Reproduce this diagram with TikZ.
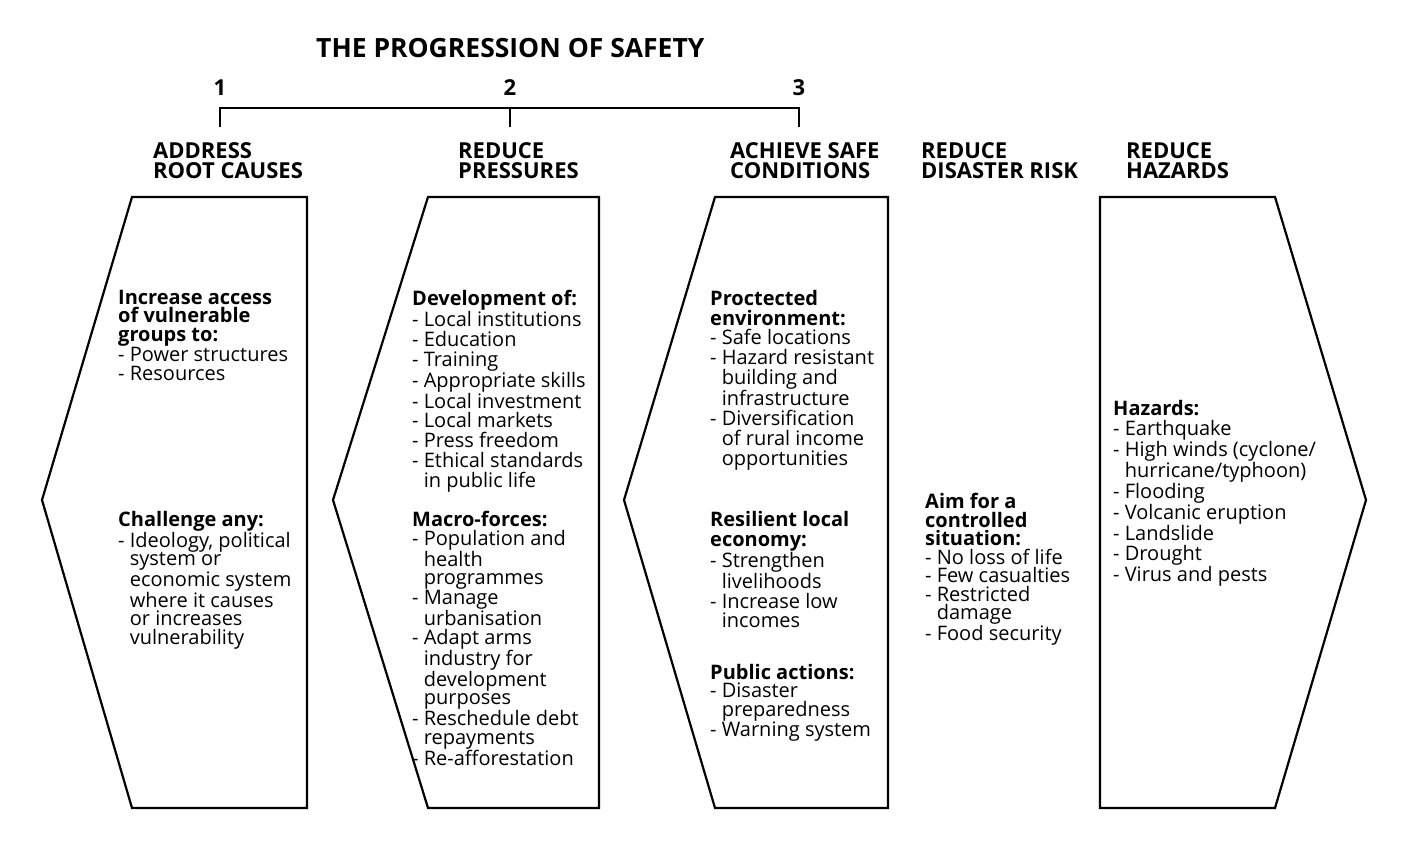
\documentclass[tikz,border=0pt]{standalone}
\usepackage{fontspec}
\setmainfont{Open Sans}
\begin{document}
\begin{tikzpicture}[x=1pt,y=-1pt,
  shp/.style={draw=black,line width=2.2pt,line join=miter},
  txt/.style={anchor=north west,inner sep=0pt,align=left,font=\fontsize{20}{19.8}\selectfont},
  tight/.style={anchor=north west,inner sep=0pt,align=left,font=\fontsize{20}{18.5}\selectfont},
  hdr/.style={anchor=north west,inner sep=0pt,align=left,font=\bfseries\fontsize{22}{20}\selectfont}]
\newcommand{\ind}{\phantom{- }}
\useasboundingbox (0,0) rectangle (1408,848);
\node[inner sep=0pt,anchor=west,font=\bfseries\fontsize{26.5}{26}\selectfont] (title) at (316,48) {THE PROGRESSION OF SAFETY};
\coordinate (b1) at (220,108); \coordinate (b2) at (510,108); \coordinate (b3) at (799,108);
\draw[line width=2pt] (220,127) -- (b1) -- (b3) -- (799,127);
\draw[line width=2pt] (b2) -- (510,127);
\node[font=\bfseries\fontsize{22}{22}\selectfont] (n1) at (220,88) {1};
\node[font=\bfseries\fontsize{22}{22}\selectfont] (n2) at (510,88) {2};
\node[font=\bfseries\fontsize{22}{22}\selectfont] (n3) at (799,88) {3};
\node[hdr] (h1) at (153,142) {ADDRESS\\ROOT CAUSES};
\node[hdr] (h2) at (458,142) {REDUCE\\PRESSURES};
\node[hdr] (h3) at (730,142) {ACHIEVE SAFE\\CONDITIONS};
\node[hdr] (h4) at (921,142) {REDUCE\\DISASTER RISK};
\node[hdr] (h5) at (1126,142) {REDUCE\\HAZARDS};
\draw[shp] (42,500) -- (132,197) -- (307,197) -- (307,808) -- (132,808) -- cycle;
\draw[shp] (333,500) -- (428,197) -- (599,197) -- (599,808) -- (428,808) -- cycle;
\draw[shp] (624,500) -- (715,197) -- (888,197) -- (888,808) -- (715,808) -- cycle;
\draw[shp] (1100,197) -- (1275,197) -- (1366,500) -- (1275,808) -- (1100,808) -- cycle;
\node[tight] (a1) at (118,290) {\textbf{Increase access}\\\textbf{of vulnerable}\\\textbf{groups to:}\\- Power structures\\- Resources};
\node[tight] (a2) at (118,511) {\textbf{Challenge any:}\\- Ideology, political\\\ind system or\\\ind economic system\\\ind where it causes\\\ind or increases\\\ind vulnerability};
\node[txt] (c1) at (412,290) {\textbf{Development of:}\\- Local institutions\\- Education\\- Training\\- Appropriate skills\\- Local investment\\- Local markets\\- Press freedom\\- Ethical standards\\\ind in public life};
\node[tight] (c2) at (412,511) {\textbf{Macro-forces:}\\- Population and\\\ind health\\\ind programmes\\- Manage\\\ind urbanisation\\- Adapt arms\\\ind industry for\\\ind development\\\ind purposes\\- Reschedule debt\\\ind repayments\\- Re-afforestation};
\node[txt] (d1) at (710,290) {\textbf{Proctected}\\\textbf{environment:}\\- Safe locations\\- Hazard resistant\\\ind building and\\\ind infrastructure\\- Diversification\\\ind of rural income\\\ind opportunities};
\node[txt] (d2) at (710,511) {\textbf{Resilient local}\\\textbf{economy:}\\- Strengthen\\\ind livelihoods\\- Increase low\\\ind incomes};
\node[tight] (d3) at (710,664) {\textbf{Public actions:}\\- Disaster\\\ind preparedness\\- Warning system};
\node[tight] (e1) at (925,493) {\textbf{Aim for a}\\\textbf{controlled}\\\textbf{situation:}\\- No loss of life\\- Few casualties\\- Restricted\\\ind damage\\- Food security};
\node[txt] (f1) at (1113,400) {\textbf{Hazards:}\\- Earthquake\\- High winds (cyclone/\\\ind hurricane/typhoon)\\- Flooding\\- Volcanic eruption\\- Landslide\\- Drought\\- Virus and pests};
\end{tikzpicture}
\end{document}
